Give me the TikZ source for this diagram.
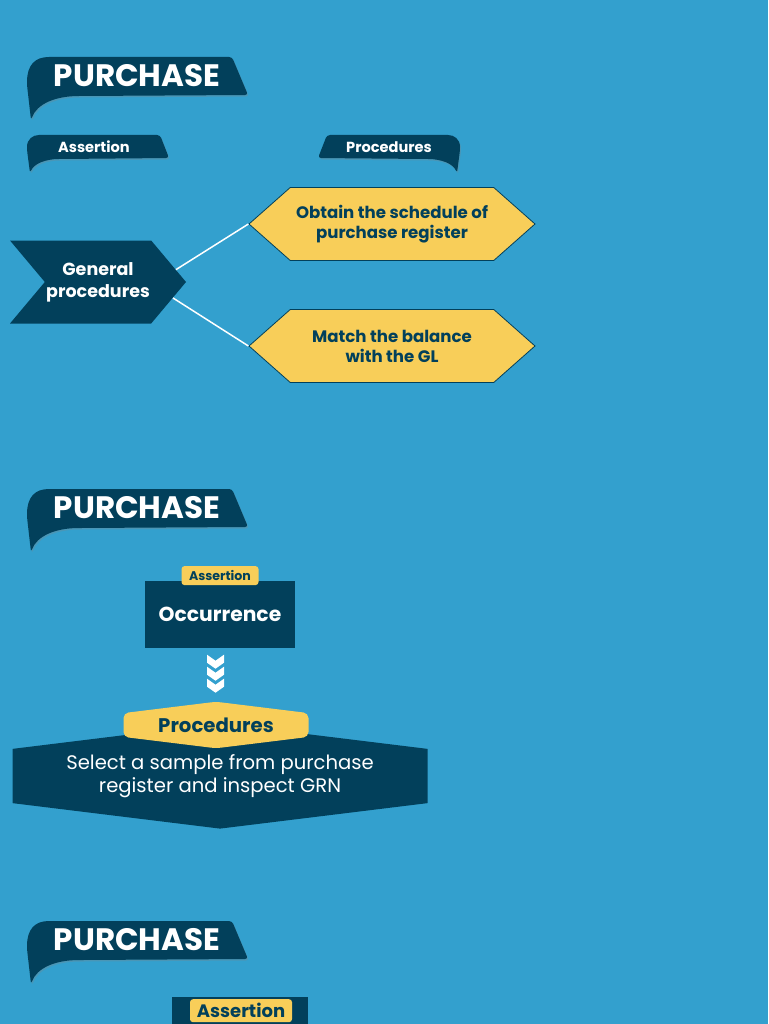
\documentclass[tikz,border=0pt]{standalone}
\usepackage{fontspec}
\setmainfont{Poppins}
\usetikzlibrary{positioning,shapes.symbols,shadows,calc}

\definecolor{skyblue}{HTML}{33A0CE}
\definecolor{navy}{HTML}{02405B}
\definecolor{gold}{HTML}{F8CE59}

\tikzset{
  bigbanner/.pic={\path[banner] (4,63) -- (0,28) .. controls (0,8) and (8,0) .. (25,0) -- (205,0) -- (221,38) -- (55,39) .. controls (28,39) and (10,47) .. (4,63) -- cycle;},
  smallbanner/.pic={\path[banner] (3,38) -- (0,15) .. controls (0,4) and (6,0) .. (15,0) -- (133,0) -- (142,23) -- (35,24) .. controls (18,24) and (7,29) .. (3,38) -- cycle;}
}

\begin{document}
\begin{tikzpicture}[x=1pt,y=-1pt,
  banner/.style={fill=navy,rounded corners=3pt,
                 drop shadow={opacity=0.3,shadow xshift=1pt,shadow yshift=-1.5pt}},
  ttl/.style={text=white,inner sep=0pt,font=\fontsize{31}{36}\selectfont\bfseries},
  tag/.style={text=white,inner sep=0pt,font=\fontsize{14.6}{17}\selectfont\bfseries},
  chev/.style={shape=signal,signal from=west,signal to=east,signal pointer angle=100,
               fill=navy,text=white,align=center,inner sep=0pt,
               minimum width=176,minimum height=83,
               font=\fontsize{17.5}{22}\selectfont\bfseries},
  hexbox/.style={shape=signal,signal to=west and east,signal pointer angle=83,
                 fill=gold,draw=navy,line width=0.8pt,text=navy,align=center,inner sep=0pt,
                 minimum width=286,minimum height=73,
                 font=\fontsize{16.6}{20}\selectfont\bfseries},
  link/.style={draw=white,line width=1.5pt},
  darkbox/.style={fill=navy,text=white,inner sep=0pt,minimum width=150,minimum height=67,
                  font=\fontsize{20.3}{24}\selectfont\bfseries},
  goldtag/.style={fill=gold,text=navy,rounded corners=3pt,inner sep=0pt,
                  minimum width=77,minimum height=19,
                  font=\fontsize{12.6}{15}\selectfont\bfseries},
  bighex/.style={shape=signal,signal to=north and south,signal pointer angle=166,
                 fill=navy,text=white,align=center,inner sep=0pt,
                 minimum width=415,minimum height=92,
                 font=\fontsize{19.6}{23}\selectfont},
  goldhex/.style={shape=signal,signal to=north and south,signal pointer angle=166,
                  fill=gold,text=navy,rounded corners=5pt,inner sep=0pt,
                  minimum width=185,minimum height=38,
                  font=\fontsize{19.7}{23}\selectfont\bfseries}]
 \useasboundingbox (0,0) rectangle (768,1024);
 \clip (0,0) rectangle (768,1024);
 \fill[skyblue] (0,0) rectangle (768,1024);

 % title banners
 \foreach \dy in {0,432,864} \pic at (27,57+\dy) {bigbanner};
 \node[ttl] (title1) at (137,76) {PURCHASE};
 \node[ttl] (title2) at (137,508) {PURCHASE};
 \node[ttl] (title3) at (137,940) {PURCHASE};

 % general procedures
 \pic at (27,135) {smallbanner};
 \pic[xscale=-1] at (460,135) {smallbanner};
 \node[tag] (asrt) at (94,147) {Assertion};
 \node[tag] (proc) at (389,147) {Procedures};
 \node[chev] (gen) at (98,282) {General\\procedures};
 \node[hexbox] (sched) at (392,224) {Obtain the schedule of\\purchase register};
 \node[hexbox] (match) at (392,346) {Match the balance\\with the GL};
 \draw[link] (gen.9) -- (sched.west);
 \draw[link] (gen.-12) -- (match.west);

 % occurrence
 \node[darkbox] (occ) at (220,614) {Occurrence};
 \node[goldtag,above=-5pt of occ.north] (occtag) {Assertion};
 \foreach \i in {0,1,2}
   \fill[white] ($(occ.south)+(-13,7+12*\i)$) -- ++(8.5,6) -- ++(8.5,-6) -- ++(0,8)
                -- ++(-8.5,6) -- ++(-8.5,-6) -- cycle;
 \node[bighex] (select) at (220,776) {Select a sample from purchase\\register and inspect GRN};
 \node[goldhex] (proctag) at (216,725) {Procedures};

 % third section
 \node[darkbox,minimum width=136,minimum height=60,anchor=north] (lastbox) at (240,997) {};
 \node[goldtag,anchor=north,minimum width=102,minimum height=23,
       font=\fontsize{18}{21}\selectfont\bfseries] (lasttag) at (241,999) {Assertion};
\end{tikzpicture}
\end{document}
